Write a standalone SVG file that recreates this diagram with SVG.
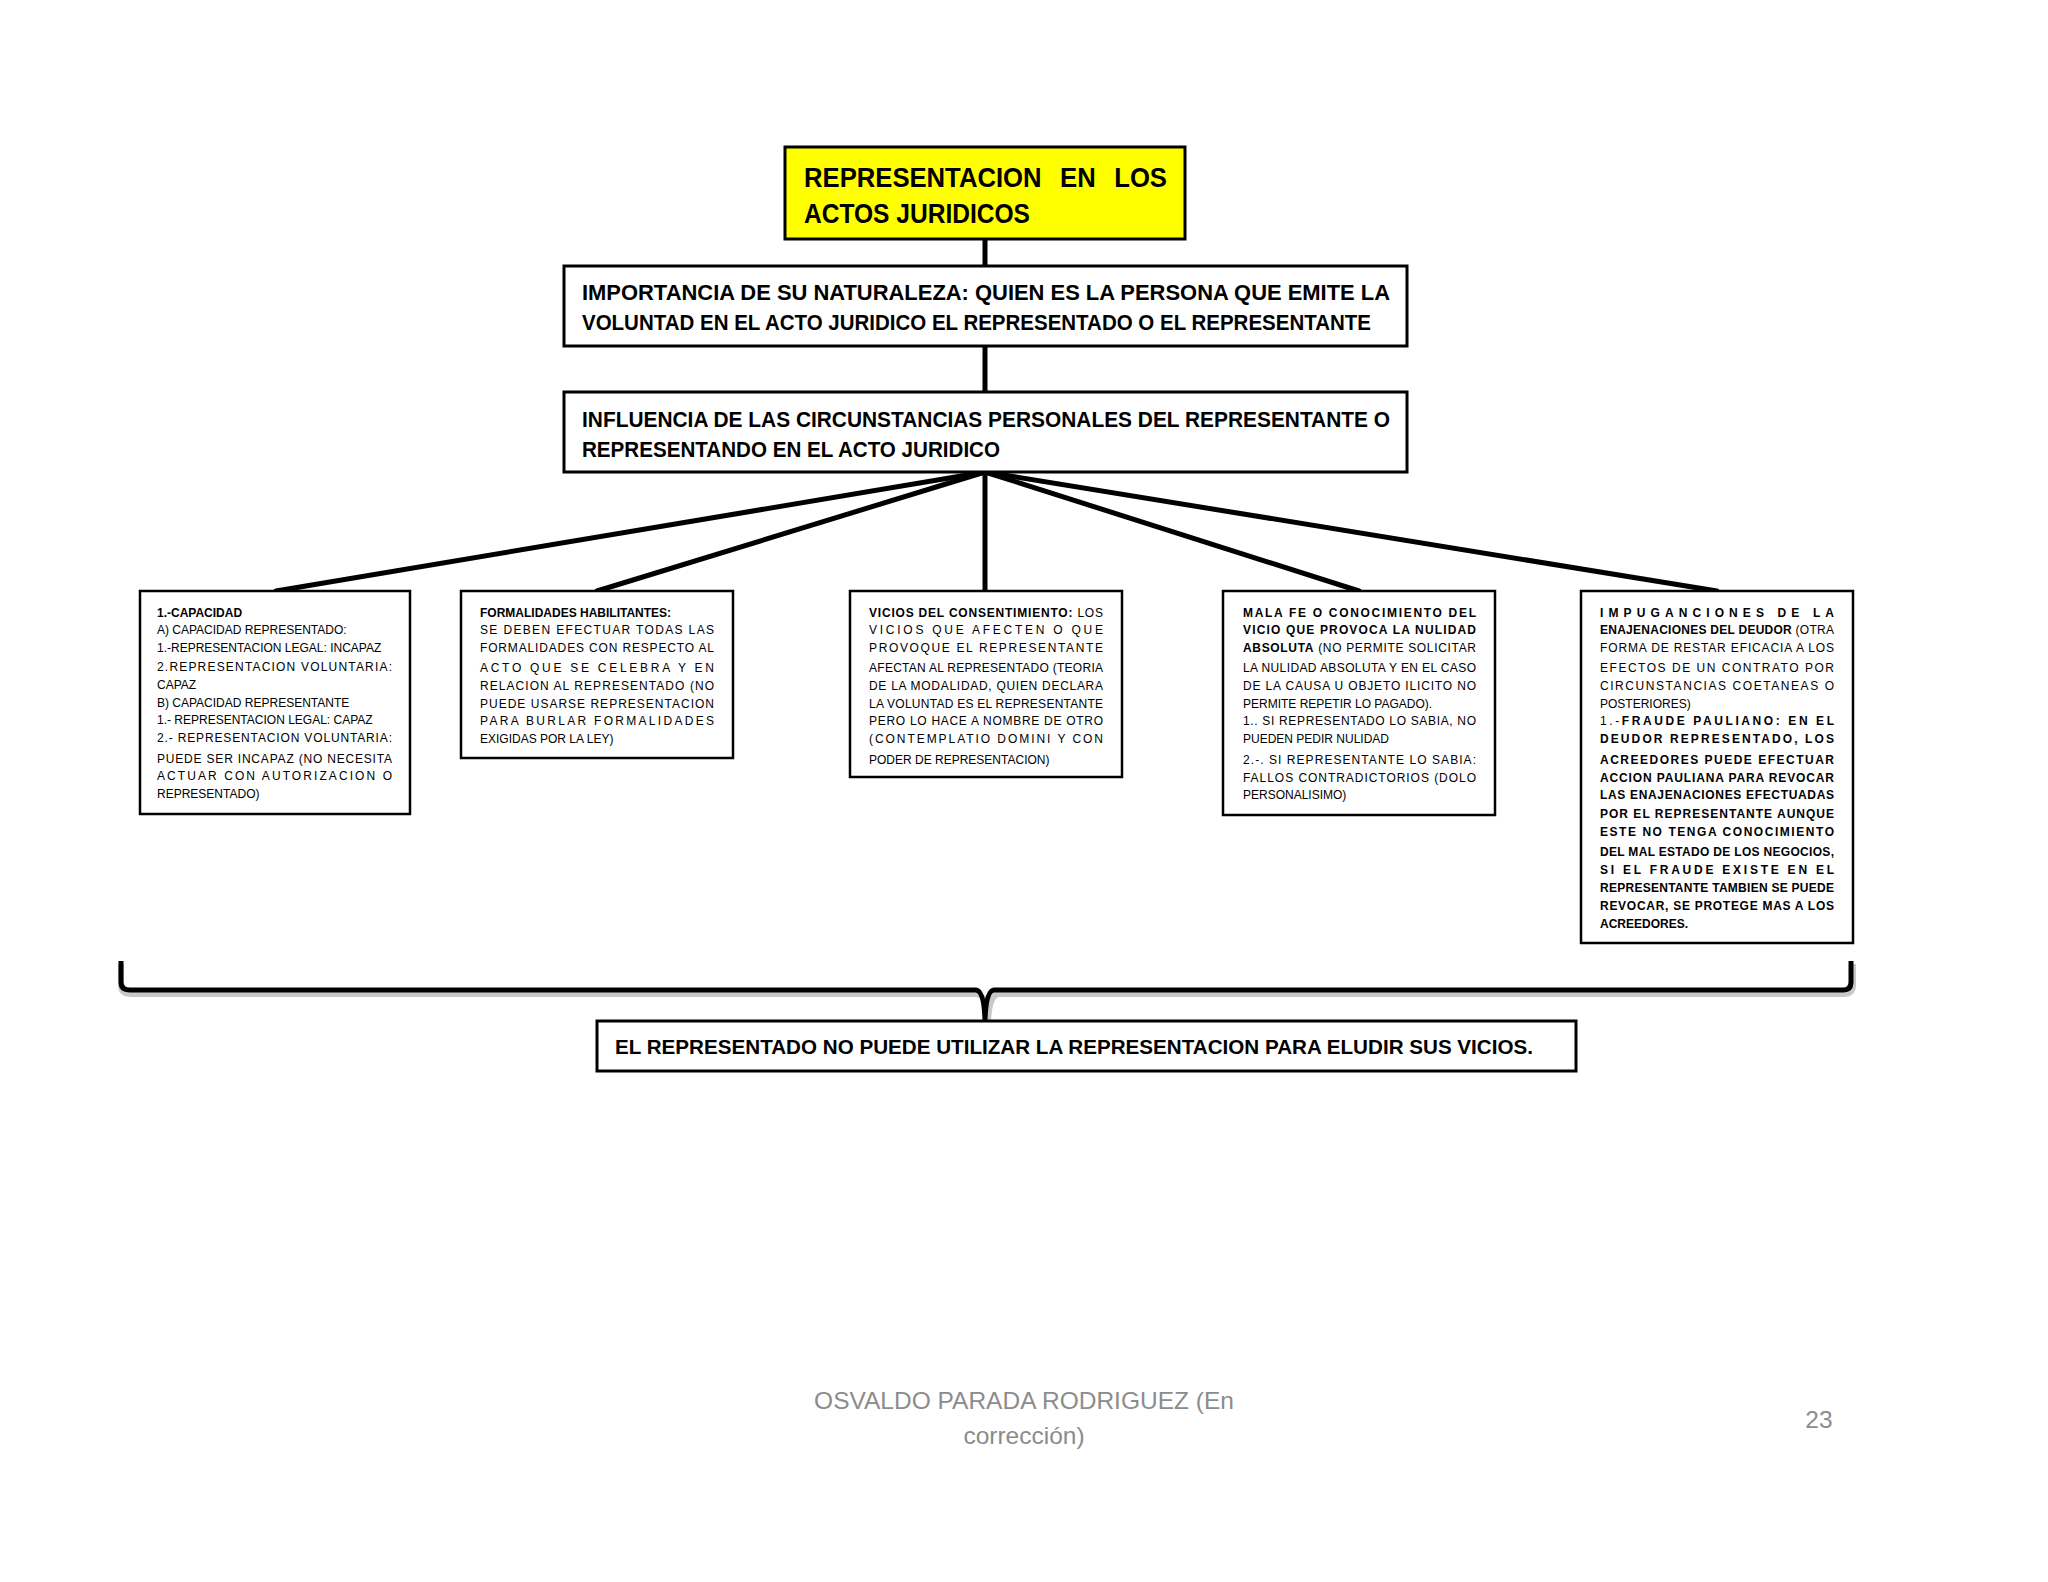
<svg xmlns="http://www.w3.org/2000/svg" width="2048" height="1582" viewBox="0 0 2048 1582">
<style>
.box{fill:#fff;stroke:#000;stroke-width:2.5}
.big{fill:#fff;stroke:#000;stroke-width:3}
.t{font-family:"Liberation Sans",Arial,sans-serif;fill:#000}
.s{font-size:12px}
.b{font-weight:bold}
.h{font-size:22px;font-weight:bold}
.conn{stroke:#000;stroke-width:5;fill:none;stroke-linecap:round}
.foot{font-family:"Liberation Sans",Arial,sans-serif;fill:#8c8c8c;font-size:24.5px}
</style>
<rect width="2048" height="1582" fill="#fff"/>
<g id="connectors">
<line class="conn" x1="985" y1="239" x2="985" y2="266"/>
<line class="conn" x1="985" y1="346" x2="985" y2="392"/>
<line class="conn" x1="985" y1="472" x2="276" y2="591"/>
<line class="conn" x1="985" y1="472" x2="597" y2="591"/>
<line class="conn" x1="985" y1="472" x2="985" y2="591"/>
<line class="conn" x1="985" y1="472" x2="1359" y2="591"/>
<line class="conn" x1="985" y1="472" x2="1717" y2="591"/>
<path d="M121,964 V985 Q121,994 131,994 H977 Q987,995 988,1023 Q989,995 999,994 H1843 Q1853,994 1853,985 V964" fill="none" stroke="#c8c8c8" stroke-width="6" stroke-linejoin="round"/>
<path d="M121,961 V982 Q121,990 130,990 H976 Q984,991 985,1020 Q986,991 994,990 H1843 Q1851,990 1851,982 V961" fill="none" stroke="#000" stroke-width="5" stroke-linejoin="round"/>
</g>
<g id="title">
<rect x="785" y="147" width="400" height="92" fill="#ffff00" stroke="#000" stroke-width="3"/>
<text class="t b" font-size="27" x="804" y="187" textLength="363" lengthAdjust="spacingAndGlyphs">REPRESENTACION <tspan dx="12">EN</tspan> <tspan dx="12">LOS</tspan></text>
<text class="t b" font-size="27" x="804" y="223" textLength="226" lengthAdjust="spacingAndGlyphs">ACTOS JURIDICOS</text>
</g>
<g id="importancia">
<rect class="big" x="564" y="266" width="843" height="80"/>
<text class="t h" x="582" y="300" textLength="808" lengthAdjust="spacingAndGlyphs">IMPORTANCIA DE SU NATURALEZA: QUIEN ES LA PERSONA QUE EMITE LA</text>
<text class="t h" x="582" y="330" textLength="789" lengthAdjust="spacingAndGlyphs">VOLUNTAD EN EL ACTO JURIDICO EL REPRESENTADO O EL REPRESENTANTE</text>
</g>
<g id="influencia">
<rect class="big" x="564" y="392" width="843" height="80"/>
<text class="t h" x="582" y="427" textLength="808" lengthAdjust="spacingAndGlyphs">INFLUENCIA DE LAS CIRCUNSTANCIAS PERSONALES DEL REPRESENTANTE O</text>
<text class="t h" x="582" y="457" textLength="418" lengthAdjust="spacingAndGlyphs">REPRESENTANDO EN EL ACTO JURIDICO</text>
</g>
<g id="capacidad">
<rect class="box" x="140" y="591" width="270" height="223"/>
<text class="t s b" x="157" y="617">1.-CAPACIDAD</text>
<text class="t s" x="157" y="634">A) CAPACIDAD REPRESENTADO:</text>
<text class="t s" x="157" y="652">1.-REPRESENTACION LEGAL: INCAPAZ</text>
<text class="t s" x="157" y="671" textLength="235" lengthAdjust="spacing">2.REPRESENTACION VOLUNTARIA:</text>
<text class="t s" x="157" y="689">CAPAZ</text>
<text class="t s" x="157" y="707">B) CAPACIDAD REPRESENTANTE</text>
<text class="t s" x="157" y="724">1.- REPRESENTACION LEGAL: CAPAZ</text>
<text class="t s" x="157" y="742" textLength="235" lengthAdjust="spacing">2.- REPRESENTACION VOLUNTARIA:</text>
<text class="t s" x="157" y="763" textLength="235" lengthAdjust="spacing">PUEDE SER INCAPAZ (NO NECESITA</text>
<text class="t s" x="157" y="780" textLength="235" lengthAdjust="spacing">ACTUAR CON AUTORIZACION O</text>
<text class="t s" x="157" y="798">REPRESENTADO)</text>
</g>
<g id="formalidades">
<rect class="box" x="461" y="591" width="272" height="167"/>
<text class="t s b" x="480" y="617">FORMALIDADES HABILITANTES:</text>
<text class="t s" x="480" y="634" textLength="234" lengthAdjust="spacing">SE DEBEN EFECTUAR TODAS LAS</text>
<text class="t s" x="480" y="652" textLength="234" lengthAdjust="spacing">FORMALIDADES CON RESPECTO AL</text>
<text class="t s" x="480" y="672" textLength="234" lengthAdjust="spacing">ACTO QUE SE CELEBRA Y EN</text>
<text class="t s" x="480" y="690" textLength="234" lengthAdjust="spacing">RELACION AL REPRESENTADO (NO</text>
<text class="t s" x="480" y="708" textLength="234" lengthAdjust="spacing">PUEDE USARSE REPRESENTACION</text>
<text class="t s" x="480" y="725" textLength="234" lengthAdjust="spacing">PARA BURLAR FORMALIDADES</text>
<text class="t s" x="480" y="743">EXIGIDAS POR LA LEY)</text>
</g>
<g id="vicios">
<rect class="box" x="850" y="591" width="272" height="186"/>
<text class="t s" x="869" y="617" textLength="234" lengthAdjust="spacing"><tspan class="b">VICIOS DEL CONSENTIMIENTO:</tspan> LOS</text>
<text class="t s" x="869" y="634" textLength="234" lengthAdjust="spacing">VICIOS QUE AFECTEN O QUE</text>
<text class="t s" x="869" y="652" textLength="234" lengthAdjust="spacing">PROVOQUE EL REPRESENTANTE</text>
<text class="t s" x="869" y="672" textLength="234" lengthAdjust="spacing">AFECTAN AL REPRESENTADO (TEORIA</text>
<text class="t s" x="869" y="690" textLength="234" lengthAdjust="spacing">DE LA MODALIDAD, QUIEN DECLARA</text>
<text class="t s" x="869" y="708" textLength="234" lengthAdjust="spacing">LA VOLUNTAD ES EL REPRESENTANTE</text>
<text class="t s" x="869" y="725" textLength="234" lengthAdjust="spacing">PERO LO HACE A NOMBRE DE OTRO</text>
<text class="t s" x="869" y="743" textLength="234" lengthAdjust="spacing">(CONTEMPLATIO DOMINI Y CON</text>
<text class="t s" x="869" y="764">PODER DE REPRESENTACION)</text>
</g>
<g id="malafe">
<rect class="box" x="1223" y="591" width="272" height="224"/>
<text class="t s b" x="1243" y="617" textLength="233" lengthAdjust="spacing">MALA FE O CONOCIMIENTO DEL</text>
<text class="t s b" x="1243" y="634" textLength="233" lengthAdjust="spacing">VICIO QUE PROVOCA LA NULIDAD</text>
<text class="t s" x="1243" y="652" textLength="233" lengthAdjust="spacing"><tspan class="b">ABSOLUTA</tspan> (NO PERMITE SOLICITAR</text>
<text class="t s" x="1243" y="672" textLength="233" lengthAdjust="spacing">LA NULIDAD ABSOLUTA Y EN EL CASO</text>
<text class="t s" x="1243" y="690" textLength="233" lengthAdjust="spacing">DE LA CAUSA U OBJETO ILICITO NO</text>
<text class="t s" x="1243" y="708">PERMITE REPETIR LO PAGADO).</text>
<text class="t s" x="1243" y="725" textLength="233" lengthAdjust="spacing">1.. SI REPRESENTADO LO SABIA, NO</text>
<text class="t s" x="1243" y="743">PUEDEN PEDIR NULIDAD</text>
<text class="t s" x="1243" y="764" textLength="233" lengthAdjust="spacing">2.-. SI REPRESENTANTE LO SABIA:</text>
<text class="t s" x="1243" y="782" textLength="233" lengthAdjust="spacing">FALLOS CONTRADICTORIOS (DOLO</text>
<text class="t s" x="1243" y="799">PERSONALISIMO)</text>
</g>
<g id="impugnaciones">
<rect class="box" x="1581" y="591" width="272" height="352"/>
<text class="t s b" x="1600" y="617" textLength="234" lengthAdjust="spacing">IMPUGANCIONES DE LA</text>
<text class="t s" x="1600" y="634" textLength="234" lengthAdjust="spacing"><tspan class="b">ENAJENACIONES DEL DEUDOR</tspan> (OTRA</text>
<text class="t s" x="1600" y="652" textLength="234" lengthAdjust="spacing">FORMA DE RESTAR EFICACIA A LOS</text>
<text class="t s" x="1600" y="672" textLength="234" lengthAdjust="spacing">EFECTOS DE UN CONTRATO POR</text>
<text class="t s" x="1600" y="690" textLength="234" lengthAdjust="spacing">CIRCUNSTANCIAS COETANEAS O</text>
<text class="t s" x="1600" y="708">POSTERIORES)</text>
<text class="t s" x="1600" y="725" textLength="234" lengthAdjust="spacing">1.-<tspan class="b">FRAUDE PAULIANO: EN EL</tspan></text>
<text class="t s b" x="1600" y="743" textLength="234" lengthAdjust="spacing">DEUDOR REPRESENTADO, LOS</text>
<text class="t s b" x="1600" y="764" textLength="234" lengthAdjust="spacing">ACREEDORES PUEDE EFECTUAR</text>
<text class="t s b" x="1600" y="782" textLength="234" lengthAdjust="spacing">ACCION PAULIANA PARA REVOCAR</text>
<text class="t s b" x="1600" y="799" textLength="234" lengthAdjust="spacing">LAS ENAJENACIONES EFECTUADAS</text>
<text class="t s b" x="1600" y="818" textLength="234" lengthAdjust="spacing">POR EL REPRESENTANTE AUNQUE</text>
<text class="t s b" x="1600" y="836" textLength="234" lengthAdjust="spacing">ESTE NO TENGA CONOCIMIENTO</text>
<text class="t s b" x="1600" y="856" textLength="234" lengthAdjust="spacing">DEL MAL ESTADO DE LOS NEGOCIOS,</text>
<text class="t s b" x="1600" y="874" textLength="234" lengthAdjust="spacing">SI EL FRAUDE EXISTE EN EL</text>
<text class="t s b" x="1600" y="892" textLength="234" lengthAdjust="spacing">REPRESENTANTE TAMBIEN SE PUEDE</text>
<text class="t s b" x="1600" y="910" textLength="234" lengthAdjust="spacing">REVOCAR, SE PROTEGE MAS A LOS</text>
<text class="t s b" x="1600" y="928">ACREEDORES.</text>
</g>
<g id="conclusion">
<rect class="big" x="597" y="1021" width="979" height="50"/>
<text class="t b" font-size="21" x="615" y="1054" textLength="918" lengthAdjust="spacingAndGlyphs">EL REPRESENTADO NO PUEDE UTILIZAR LA REPRESENTACION PARA ELUDIR SUS VICIOS.</text>
</g>
<g id="footer">
<text class="foot" x="1024" y="1409" text-anchor="middle">OSVALDO PARADA RODRIGUEZ (En</text>
<text class="foot" x="1024" y="1444" text-anchor="middle">corrección)</text>
<text class="foot" x="1819" y="1428" text-anchor="middle">23</text>
</g>
</svg>
